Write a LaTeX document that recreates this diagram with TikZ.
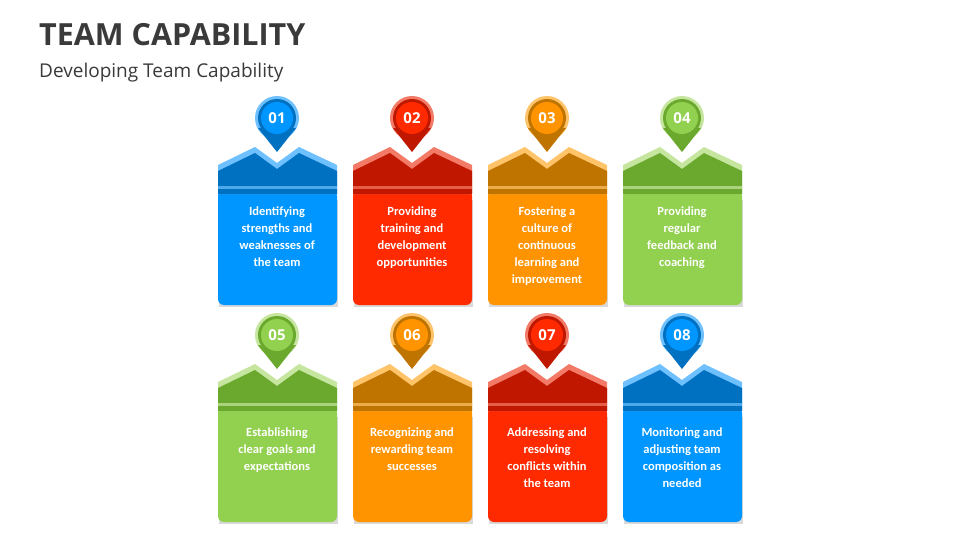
\documentclass[tikz,border=0pt]{standalone}
\usepackage{fontspec}
\setmainfont{Carlito}
\newfontfamily\osans{Open Sans}
\definecolor{bD}{HTML}{0070C0}\definecolor{bB}{HTML}{0096FF}\definecolor{bL}{HTML}{6EC0FF}
\definecolor{rD}{HTML}{C01800}\definecolor{rB}{HTML}{FF2A00}\definecolor{rL}{HTML}{F27A66}
\definecolor{oD}{HTML}{C07400}\definecolor{oB}{HTML}{FF9400}\definecolor{oL}{HTML}{FFC46A}
\definecolor{gD}{HTML}{6AA82E}\definecolor{gB}{HTML}{92D050}\definecolor{gL}{HTML}{C6E6A0}
\definecolor{ttl}{HTML}{3A3A3A}
\tikzset{cardtext/.style={text=white,align=center,anchor=north,font=\fontsize{12.5}{17}\selectfont\bfseries,inner sep=0pt},
numtext/.style={text=white,font=\osans\fontsize{15}{15}\selectfont\bfseries,inner sep=0pt}}
\newcommand{\mycard}[7]{% x, yoff, num, color prefix, text, name, text top
\begin{scope}[shift={(#1,#2)}]
\fill[black!15] (1,200) rectangle (120,307);
\fill[#4B,rounded corners=6] (0,190) -- (0,305) -- (119,305) -- (119,190) -- cycle;
\fill[#4L] (0,165) -- (37,147) -- (59,163) -- (81,147) -- (119,165) -- (119,194) -- (0,194) -- cycle;
\fill[#4D] (0,171) -- (37,153) -- (59,169) -- (81,153) -- (119,171) -- (119,194) -- (0,194) -- cycle;
\fill[#4L!70!#4D] (0,186) rectangle (119,189);
\fill[#4L] (59,118) circle (22);
\fill[#4D] (40,128) -- (59,152) -- (78,128) -- cycle;
\fill[#4D] (59,118) circle (19);
\fill[#4B] (59,118) circle (16);
\node[numtext] (n#6) at (59,118) {#3};
\node[cardtext] (t#6) at (59,#7) {#5};
\end{scope}}
\begin{document}
\begin{tikzpicture}[x=1pt,y=-1pt]
\useasboundingbox (0,0) rectangle (960,540);
\fill[white] (0,0) rectangle (960,540);
\node[anchor=west,text=ttl,font=\osans\fontsize{30.5}{30}\selectfont\bfseries,inner sep=0pt] (title) at (39,35) {TEAM CAPABILITY};
\node[anchor=west,text=ttl,font=\osans\fontsize{19}{19}\selectfont,inner sep=0pt] (sub) at (39,73) {Developing Team Capability};
\mycard{218}{0}{01}{b}{Identifying\\strengths and\\weaknesses of\\the team}{1}{207}
\mycard{353}{0}{02}{r}{Providing\\training and\\development\\opportunities}{2}{207}
\mycard{488}{0}{03}{o}{Fostering a\\culture of\\continuous\\learning and\\improvement}{3}{207}
\mycard{623}{0}{04}{g}{Providing\\regular\\feedback and\\coaching}{4}{207}
\mycard{218}{217}{05}{g}{Establishing\\clear goals and\\expectations}{5}{211}
\mycard{353}{217}{06}{o}{Recognizing and\\rewarding team\\successes}{6}{211}
\mycard{488}{217}{07}{r}{Addressing and\\resolving\\conflicts within\\the team}{7}{211}
\mycard{623}{217}{08}{b}{Monitoring and\\adjusting team\\composition as\\needed}{8}{211}
\end{tikzpicture}
\end{document}
